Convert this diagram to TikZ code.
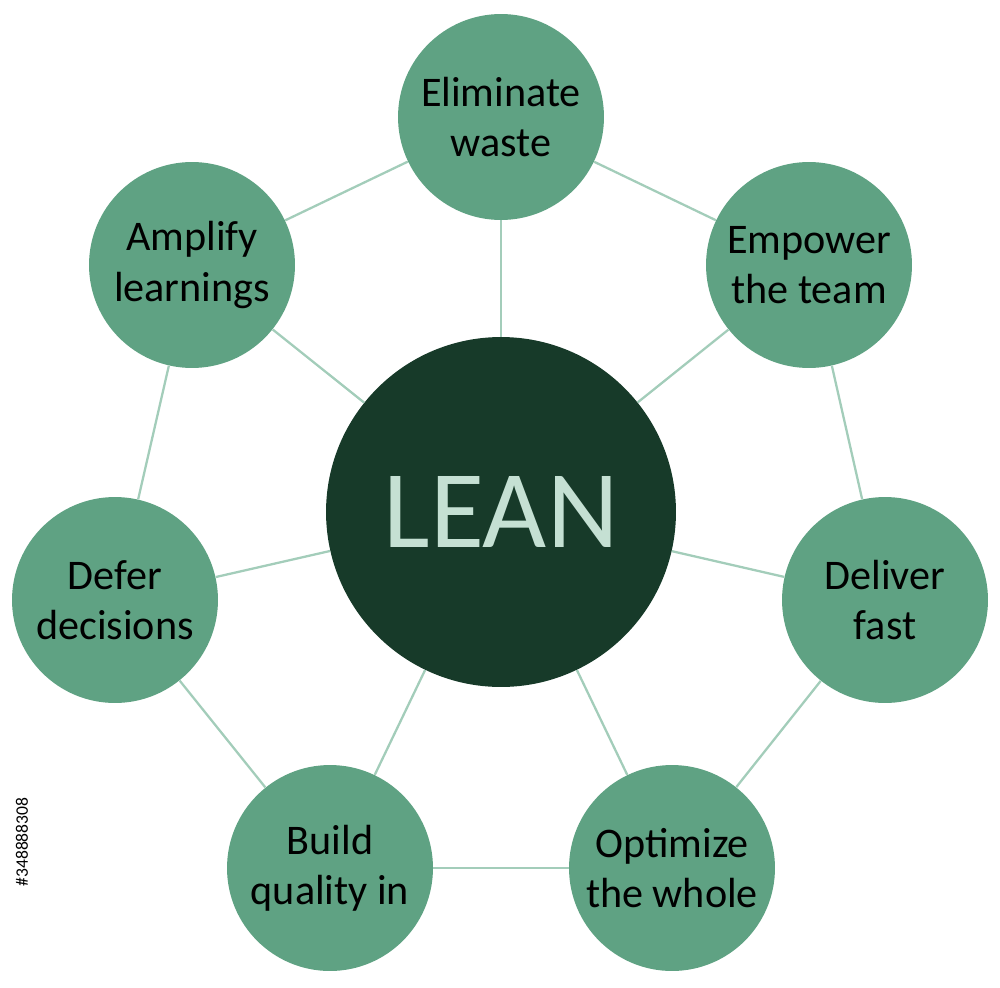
\documentclass[tikz,border=0pt]{standalone}
\usepackage{fontspec}
\setmainfont{Carlito}
\definecolor{outer}{HTML}{5FA283}
\definecolor{inner}{HTML}{173A29}
\definecolor{innertext}{HTML}{C5E0D3}
\definecolor{link}{HTML}{A3CDBA}
\begin{document}
\begin{tikzpicture}[x=0.02cm,y=-0.02cm,
  petal/.style={circle,fill=outer,minimum size=4.12cm,inner sep=0pt,align=center,
    font=\fontsize{24pt}{28.5pt}\selectfont,text=black},
  hub/.style={circle,fill=inner,minimum size=7cm,inner sep=0pt,
    font=\fontsize{63pt}{65pt}\selectfont,text=innertext},
  link/.style={draw=link,line width=1.3pt}]
\useasboundingbox (0,0) rectangle (1000,987);
\node[hub] (c) at (501,512) {LEAN};
\node[petal] (a) at (501,117) {Eliminate\\waste};
\node[petal] (b) at (809,265) {Empower\\the team};
\node[petal] (d) at (885,600) {Deliver\\fast};
\node[petal] (e) at (672,868) {Optimize\\the whole};
\node[petal] (f) at (330,868) {Build\\quality in};
\node[petal] (g) at (115,600) {Defer\\decisions};
\node[petal] (h) at (192,265) {Amplify\\learnings};
\foreach \p in {a,b,d,e,f,g,h} \draw[link] (c) -- (\p);
\draw[link] (a) -- (b); \draw[link] (b) -- (d); \draw[link] (d) -- (e);
\draw[link] (e) -- (f); \draw[link] (f) -- (g); \draw[link] (g) -- (h);
\draw[link] (h) -- (a);
\node[rotate=90,font=\fontsize{10pt}{11pt}\selectfont,text=black] (wm) at (22,842) {\#348888308};
\end{tikzpicture}
\end{document}
